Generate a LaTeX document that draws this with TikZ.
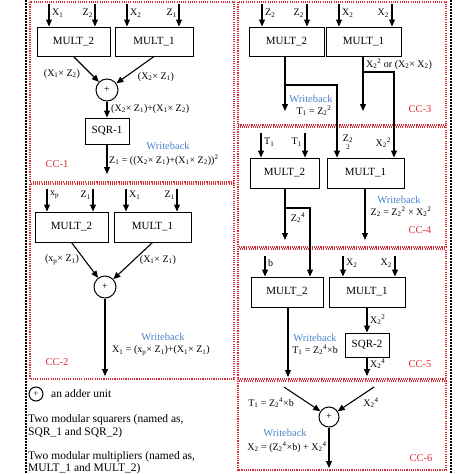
\documentclass[tikz,border=0pt]{standalone}
\usepackage{fontspec}
\setmainfont{Liberation Serif}
\usetikzlibrary{arrows.meta}
\definecolor{ccred}{RGB}{215,45,55}
\definecolor{wbblue}{RGB}{75,130,205}
\newcommand{\sbs}[1]{\textsubscript{#1}}
\newcommand{\sps}[1]{\textsuperscript{#1}}
\begin{document}
\begin{tikzpicture}[x=1pt,y=-1pt,
  unit/.style={draw,line width=1pt,minimum height=29pt,inner sep=0pt,font=\fontsize{11}{12}\selectfont},
  sqr/.style={draw,line width=1pt,minimum width=44pt,inner sep=0pt,font=\fontsize{11}{12}\selectfont},
  adder/.style={draw,circle,line width=1pt,minimum size=22pt,inner sep=0pt,font=\fontsize{10}{10}\selectfont},
  arr/.style={line width=1.1pt,-{Triangle[length=7pt,width=6pt]}},
  lbl/.style={inner sep=0pt,font=\fontsize{10}{11}\selectfont},
  wb/.style={inner sep=0pt,text=wbblue,font=\fontsize{10.5}{11}\selectfont},
  cc/.style={inner sep=0pt,text=ccred,font=\fontsize{10.5}{11}\selectfont},
  leg/.style={inner sep=0pt,anchor=west,font=\fontsize{11.5}{13}\selectfont},
  ccbox/.style={draw=ccred,line width=1.1pt,dash pattern=on 1.1pt off 1.1pt},
  outer/.style={draw=black,line width=1.6pt,dash pattern=on 1.6pt off 1.4pt}]
\useasboundingbox (0,0) rectangle (474,474);
% outer dotted lines
\draw[outer] (26,0) -- (26,474);
\draw[outer] (451,0) -- (451,474);
% CC boxes
\draw[ccbox] (30,2) rectangle (234,182);
\draw[ccbox] (30,184) rectangle (234,379);
\draw[ccbox] (238,2) rectangle (446,125);
\draw[ccbox] (238,127) rectangle (446,247);
\draw[ccbox] (238,249) rectangle (446,379);
\draw[ccbox] (238,381) rectangle (446,470);

% ---------- CC-1 ----------
\node[unit,minimum width=73pt] (m2a) at (73.5,41.5) {MULT\_2};
\node[unit,minimum width=78pt] (m1a) at (154,41.5) {MULT\_1};
\node[adder] (adda) at (107,90) {+};
\node[sqr,minimum height=26pt] (sqra) at (107,131) {SQR-1};
\coordinate (ia1) at (49,4); \coordinate (ia2) at (95,4);
\coordinate (ia3) at (127,4); \coordinate (ia4) at (179,4);
\foreach \c/\m in {ia1/m2a,ia2/m2a,ia3/m1a,ia4/m1a} \draw[arr] (\c) -- (\c |- \m.north);
\node[lbl,anchor=west] at (52,13) {X\sbs{1}};
\node[lbl,anchor=east] at (93,13) {Z\sbs{2}};
\node[lbl,anchor=west] at (130,13) {X\sbs{2}};
\node[lbl,anchor=east] at (177,13) {Z\sbs{1}};
\draw[arr] (m2a.south) -- (adda);
\draw[arr] (m1a.south) -- (adda);
\node[lbl] at (62,74) {(X\sbs{1}× Z\sbs{2})};
\node[lbl] at (156,77) {(X\sbs{2}× Z\sbs{1})};
\draw[arr] (adda) -- (sqra);
\node[lbl,anchor=west] at (111,109) {(X\sbs{2}× Z\sbs{1})+(X\sbs{1}× Z\sbs{2})};
\coordinate (oa) at (107,174);
\draw[arr] (sqra) -- (oa);
\node[wb] at (168,146) {Writeback};
\node[lbl,anchor=west] at (109,160) {Z\sbs{1} = ((X\sbs{2}× Z\sbs{1})+(X\sbs{1}× Z\sbs{2}))\sps{2}};
\node[cc] at (57,164) {CC-1};

% ---------- CC-2 ----------
\node[unit,minimum width=73pt,minimum height=30pt] (m2b) at (71.5,227) {MULT\_2};
\node[unit,minimum width=77pt,minimum height=30pt] (m1b) at (152.5,227) {MULT\_1};
\node[adder] (addb) at (105,287) {+};
\coordinate (ib1) at (47,189); \coordinate (ib2) at (93,189);
\coordinate (ib3) at (126,189); \coordinate (ib4) at (177,189);
\foreach \c/\m in {ib1/m2b,ib2/m2b,ib3/m1b,ib4/m1b} \draw[arr] (\c) -- (\c |- \m.north);
\node[lbl,anchor=west] at (50,195) {x\sbs{p}};
\node[lbl,anchor=east] at (91,195) {Z\sbs{1}};
\node[lbl,anchor=west] at (129,195) {X\sbs{1}};
\node[lbl,anchor=east] at (175,195) {Z\sbs{1}};
\draw[arr] (m2b.south) -- (addb);
\draw[arr] (m1b.south) -- (addb);
\node[lbl] at (62,260) {(x\sbs{p}× Z\sbs{1})};
\node[lbl] at (158,260) {(X\sbs{1}× Z\sbs{1})};
\coordinate (ob) at (105,376);
\draw[arr] (addb) -- (ob);
\node[wb] at (163,337) {Writeback};
\node[lbl,anchor=west] at (112,351) {X\sbs{1} = (x\sbs{p}× Z\sbs{1})+(X\sbs{1}× Z\sbs{1})};
\node[cc] at (57,362) {CC-2};

% ---------- Legend ----------
\node[draw,circle,line width=1pt,minimum size=14pt,inner sep=0pt,font=\fontsize{9}{9}\selectfont] (legadd) at (36,394) {+};
\node[leg] (lg1) at (51,394) {an adder unit};
\node[leg] (lg2) at (28,420) {Two modular squarers (named as,};
\node[leg] (lg3) at (28,433) {SQR\_1 and SQR\_2)};
\node[leg] (lg4) at (28,457) {Two modular multipliers (named as,};
\node[leg] (lg5) at (28,469) {MULT\_1 and MULT\_2)};

% ---------- CC-3 ----------
\node[unit,minimum width=75pt] (m2c) at (286.5,41.5) {MULT\_2};
\node[unit,minimum width=75pt] (m1c) at (363.5,41.5) {MULT\_1};
\coordinate (ic1) at (262,4); \coordinate (ic2) at (307,4);
\coordinate (ic3) at (339,4); \coordinate (ic4) at (392,4);
\foreach \c/\m in {ic1/m2c,ic2/m2c,ic3/m1c,ic4/m1c} \draw[arr] (\c) -- (\c |- \m.north);
\node[lbl,anchor=west] at (265,13) {Z\sbs{2}};
\node[lbl,anchor=east] at (304,13) {Z\sbs{2}};
\node[lbl,anchor=west] at (342,13) {X\sbs{2}};
\node[lbl,anchor=east] at (389,13) {X\sbs{2}};

% ---------- CC-4 ----------
\node[unit,minimum width=69pt,minimum height=30pt] (m2d) at (284.5,173) {MULT\_2};
\node[unit,minimum width=77pt,minimum height=30pt] (m1d) at (365.5,173) {MULT\_1};

% CC-3 outputs
\coordinate (oc1) at (285,111); \coordinate (oc2) at (363,111);
\coordinate (bc1) at (285,85); \coordinate (bc2) at (363,72);
\draw[arr] (m2c.south -| oc1) -- (oc1);
\draw[arr] (bc1) -| (337,0 |- m1d.north);
\draw[arr] (m1c.south -| oc2) -- (oc2);
\draw[arr] (bc2) -| (394,0 |- m1d.north);
\node[lbl,anchor=west] at (366,64) {X\sbs{2}\sps{2} or (X\sbs{2}× X\sbs{2})};
\node[wb] at (311,99) {Writeback};
\node[lbl] at (314,111) {T\sbs{1} = Z\sbs{2}\sps{2}};
\node[cc] at (420,109) {CC-3};

% CC-4 inputs
\coordinate (id1) at (261,133); \coordinate (id2) at (305,133);
\foreach \c/\m in {id1/m2d,id2/m2d} \draw[arr] (\c) -- (\c |- \m.north);
\node[lbl,anchor=west] at (264,142) {T\sbs{1}};
\node[lbl,anchor=east] at (302,142) {T\sbs{1}};
\node[lbl,align=center] at (348,142) {Z\sbs{2}\\[-3pt]{\fontsize{7}{7}\selectfont 2}};
\node[lbl,anchor=east] at (391,143) {X\sbs{2}\sps{2}};

% ---------- CC-5 ----------
\node[unit,minimum width=72pt,minimum height=30pt] (m2e) at (287,292) {MULT\_2};
\node[unit,minimum width=76pt,minimum height=30pt] (m1e) at (367,292) {MULT\_1};
\node[sqr,minimum height=24pt] (sqre) at (367,345) {SQR-2};

% CC-4 outputs
\coordinate (od1) at (285,240); \coordinate (od2) at (365,240);
\coordinate (bd1) at (285,208);
\draw[arr] (m2d.south -| od1) -- (od1);
\draw[arr] (bd1) -| (310,0 |- m2e.north);
\draw[arr] (m1d.south -| od2) -- (od2);
\node[lbl] at (298,218) {Z\sbs{2}\sps{4}};
\node[wb] at (399,200) {Writeback};
\node[lbl] at (401,212) {Z\sbs{2} = Z\sbs{2}\sps{2} × X\sbs{2}\sps{2}};
\node[cc] at (420,230) {CC-4};

% CC-5 inputs/outputs
\coordinate (ie1) at (265,256); \coordinate (ie3) at (343,256); \coordinate (ie4) at (395,256);
\foreach \c/\m in {ie1/m2e,ie3/m1e,ie4/m1e} \draw[arr] (\c) -- (\c |- \m.north);
\node[lbl,anchor=west] at (268,263) {b};
\node[lbl,anchor=west] at (346,263) {X\sbs{2}};
\node[lbl,anchor=east] at (392,263) {X\sbs{2}};
\coordinate (oe1) at (288,377); \coordinate (oe2) at (367,376);
\draw[arr] (m2e.south -| oe1) -- (oe1);
\draw[arr] (m1e.south -| sqre.north) -- (sqre.north);
\draw[arr] (sqre) -- (oe2);
\node[lbl,anchor=west] at (370,320) {X\sbs{2}\sps{2}};
\node[lbl,anchor=west] at (370,364) {X\sbs{2}\sps{4}};
\node[wb] at (315,338) {Writeback};
\node[lbl] at (315,350) {T\sbs{1} = Z\sbs{2}\sps{4}×b};
\node[cc] at (420,364) {CC-5};

% ---------- CC-6 ----------
\node[adder,minimum size=20pt] (addf) at (329,417) {+};
\coordinate (if1) at (284,387); \coordinate (if2) at (374,387);
\draw[arr] (if1) -- (addf);
\draw[arr] (if2) -- (addf);
\node[lbl] at (271,403) {T\sbs{1} = Z\sbs{2}\sps{4}×b};
\node[lbl] at (371,403) {X\sbs{2}\sps{4}};
\coordinate (of) at (329,468);
\draw[arr] (addf) -- (of);
\node[wb] at (285,433) {Writeback};
\node[lbl] at (287,447) {X\sbs{2} = (Z\sbs{2}\sps{4}×b) + X\sbs{2}\sps{4}};
\node[cc] at (421,458) {CC-6};
\end{tikzpicture}
\end{document}
